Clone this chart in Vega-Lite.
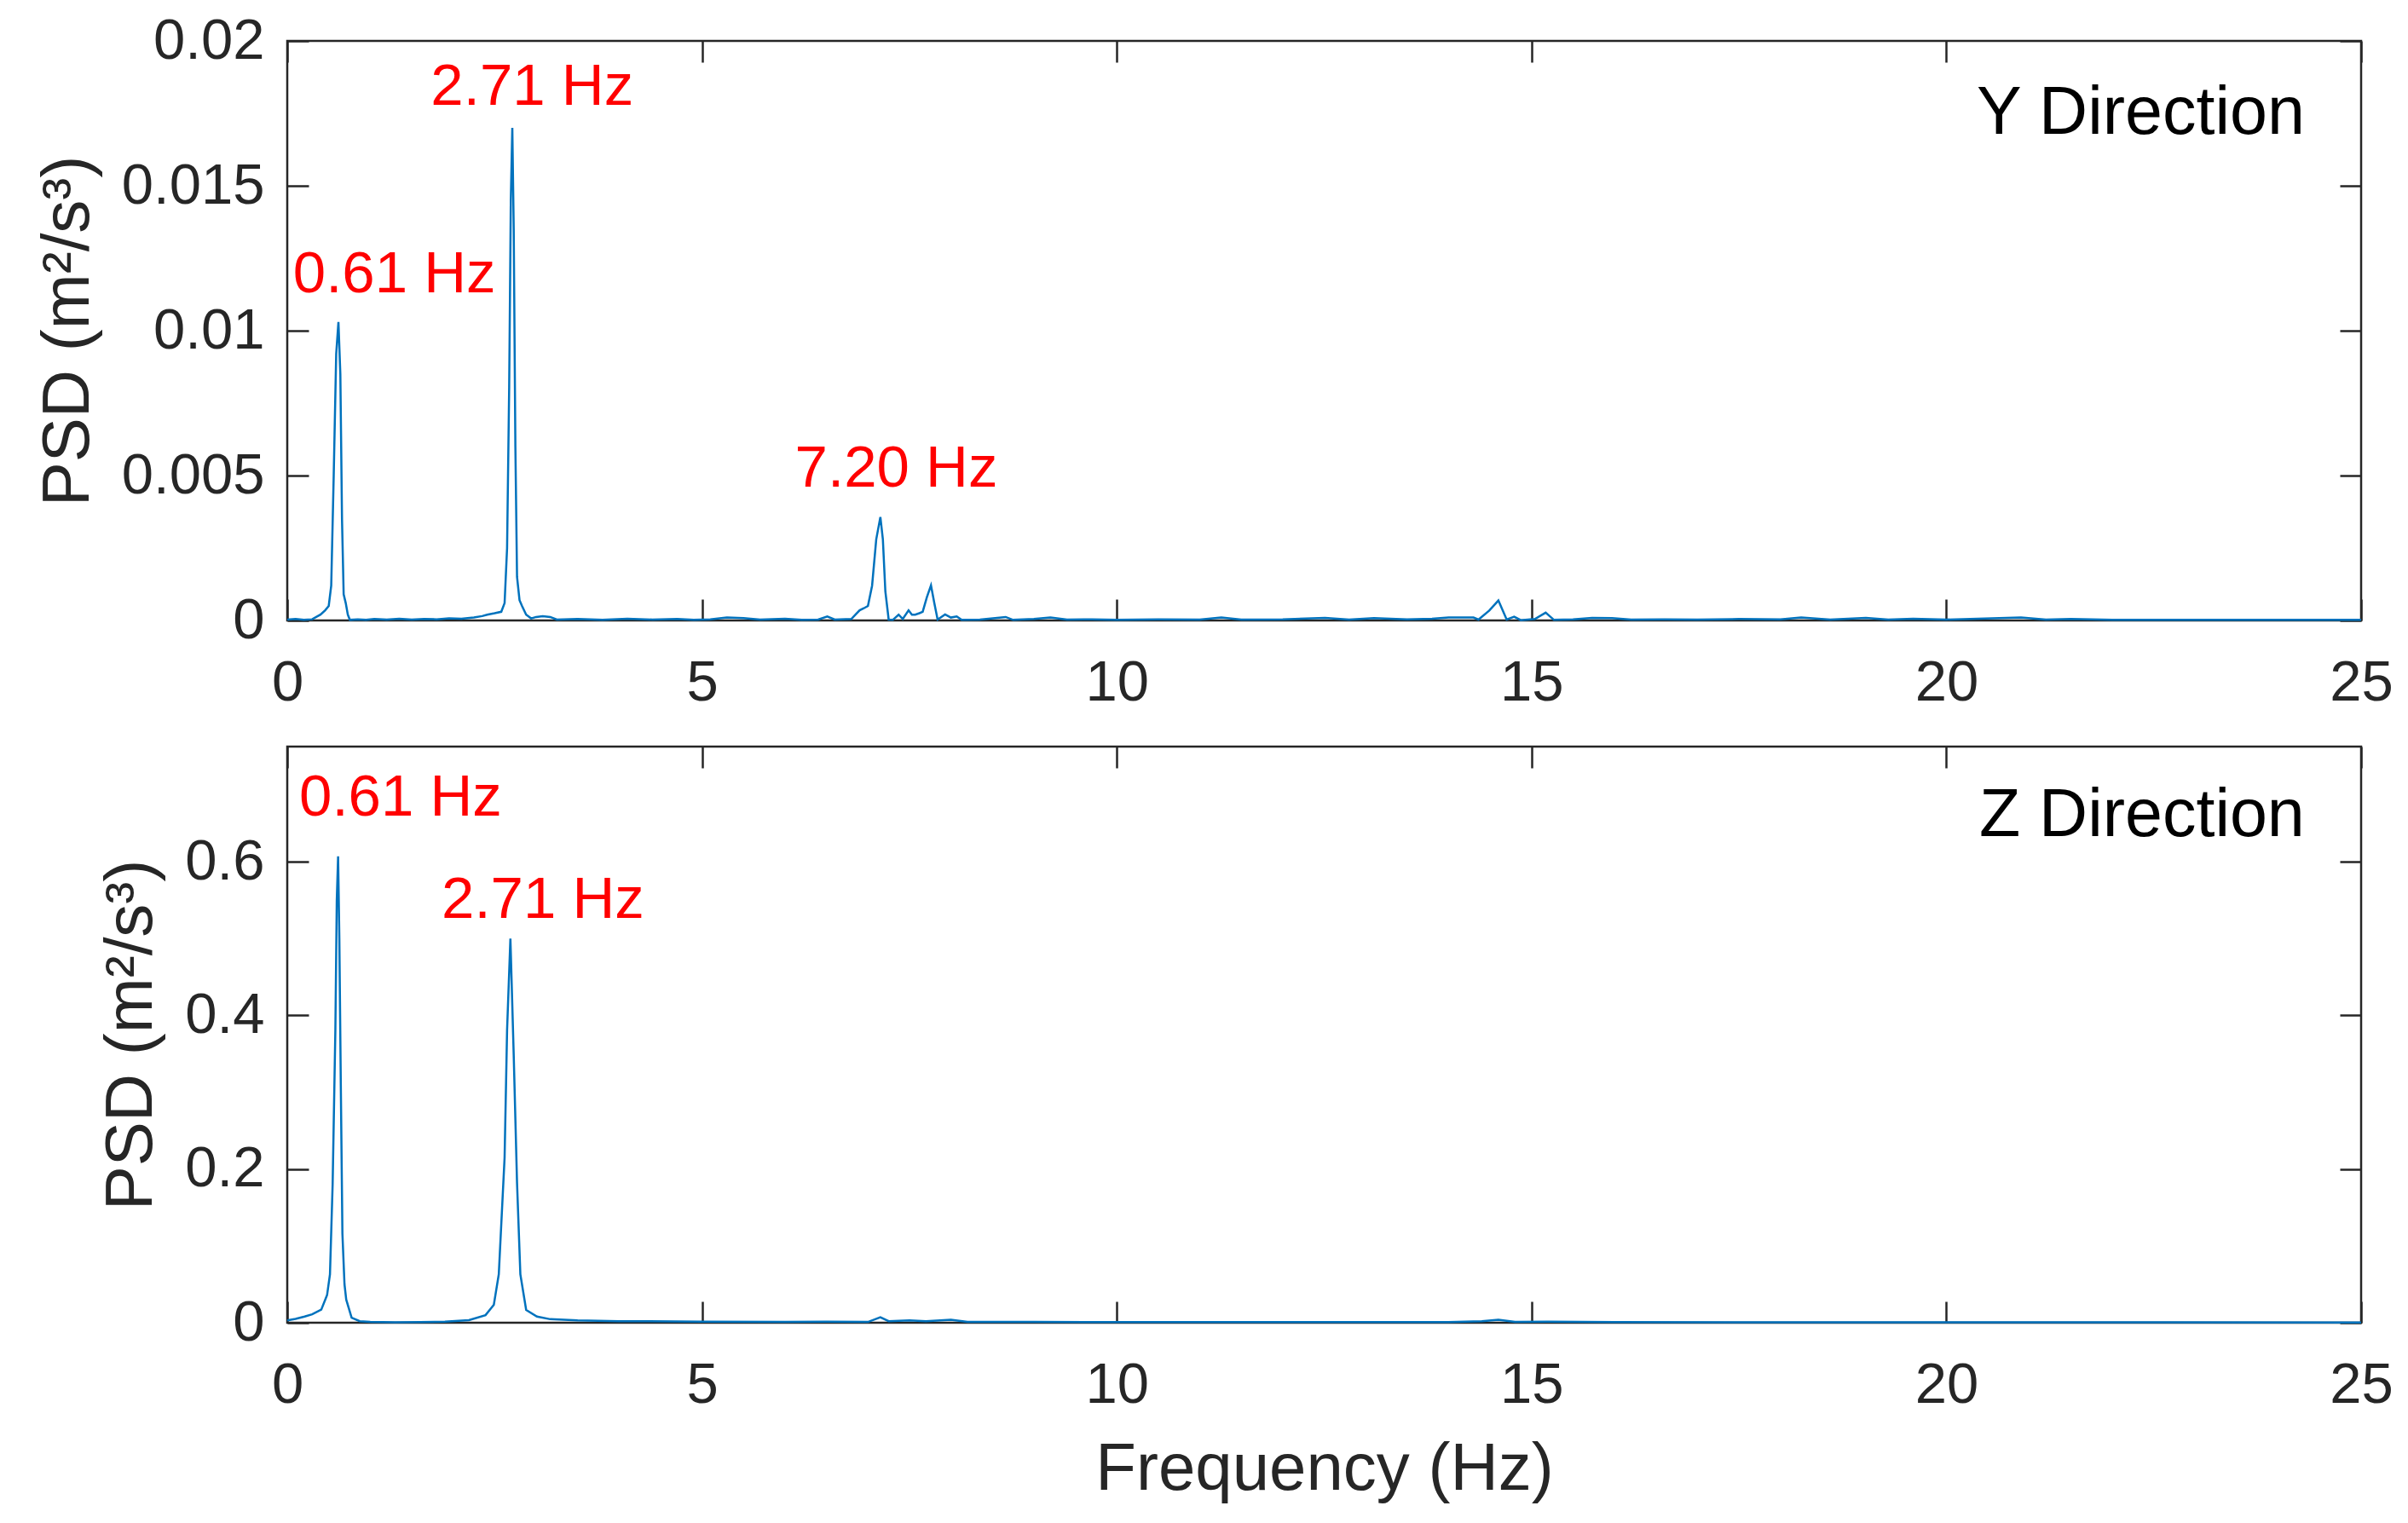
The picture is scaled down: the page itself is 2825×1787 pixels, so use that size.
{
  "$schema": "https://vega.github.io/schema/vega-lite/v6.json",
  "background": "white",
  "padding": {"left": 40, "top": 12, "right": 0, "bottom": 0},
  "spacing": 37,
  "config": {
    "font": "Liberation Sans",
    "view": {"stroke": "#262626", "strokeWidth": 2.5},
    "axis": {
      "grid": false,
      "domain": false,
      "labelFont": "Liberation Sans",
      "labelFontSize": 67,
      "labelColor": "#262626",
      "labelFlush": false,
      "titleFont": "Liberation Sans",
      "titleFontSize": 78,
      "titleFontWeight": "normal",
      "titleColor": "#262626",
      "tickColor": "#262626",
      "tickWidth": 2.5
    }
  },
  "datasets": {
    "ypsd": [
      {"f": 0, "v": 0.00003}, {"f": 0.1, "v": 0.00005}, {"f": 0.2, "v": 0.00002}, {"f": 0.3, "v": 0.00004},
      {"f": 0.4, "v": 0.0002}, {"f": 0.457, "v": 0.00035}, {"f": 0.5, "v": 0.0005}, {"f": 0.53, "v": 0.0012},
      {"f": 0.56, "v": 0.005}, {"f": 0.59, "v": 0.0092}, {"f": 0.617, "v": 0.0103}, {"f": 0.64, "v": 0.0085},
      {"f": 0.66, "v": 0.0035}, {"f": 0.68, "v": 0.0009}, {"f": 0.705, "v": 0.0006}, {"f": 0.73, "v": 0.0002},
      {"f": 0.755, "v": 0.00002}, {"f": 0.85, "v": 0.00004}, {"f": 0.95, "v": 0.00002}, {"f": 1.05, "v": 0.00005},
      {"f": 1.2, "v": 0.00003}, {"f": 1.35, "v": 0.00006}, {"f": 1.5, "v": 0.00003}, {"f": 1.65, "v": 0.00005},
      {"f": 1.8, "v": 0.00004}, {"f": 1.95, "v": 0.00007}, {"f": 2.1, "v": 0.00006}, {"f": 2.25, "v": 0.0001},
      {"f": 2.35, "v": 0.00015}, {"f": 2.41, "v": 0.0002}, {"f": 2.5, "v": 0.00025}, {"f": 2.58, "v": 0.0003},
      {"f": 2.62, "v": 0.0006}, {"f": 2.65, "v": 0.0025}, {"f": 2.675, "v": 0.008}, {"f": 2.695, "v": 0.0145},
      {"f": 2.713, "v": 0.017}, {"f": 2.73, "v": 0.0135}, {"f": 2.75, "v": 0.006}, {"f": 2.77, "v": 0.0015},
      {"f": 2.8, "v": 0.0007}, {"f": 2.83, "v": 0.0005}, {"f": 2.88, "v": 0.0002}, {"f": 2.94, "v": 0.00007},
      {"f": 3.0, "v": 0.00012}, {"f": 3.08, "v": 0.00015}, {"f": 3.17, "v": 0.00012}, {"f": 3.25, "v": 0.00003},
      {"f": 3.5, "v": 0.00005}, {"f": 3.8, "v": 0.00002}, {"f": 4.1, "v": 0.00006}, {"f": 4.4, "v": 0.00003},
      {"f": 4.7, "v": 0.00005}, {"f": 4.9, "v": 0.00002}, {"f": 5.1, "v": 0.00004}, {"f": 5.3, "v": 0.0001},
      {"f": 5.5, "v": 0.00008}, {"f": 5.7, "v": 0.00003}, {"f": 6.0, "v": 0.00006}, {"f": 6.2, "v": 0.00002},
      {"f": 6.4, "v": 0.00003}, {"f": 6.51, "v": 0.00014}, {"f": 6.6, "v": 0.00003}, {"f": 6.8, "v": 0.00005},
      {"f": 6.85, "v": 0.0002}, {"f": 6.9, "v": 0.00035}, {"f": 6.95, "v": 0.00042}, {"f": 7.0, "v": 0.0005},
      {"f": 7.05, "v": 0.0012}, {"f": 7.1, "v": 0.0028}, {"f": 7.15, "v": 0.00357}, {"f": 7.18, "v": 0.0028},
      {"f": 7.21, "v": 0.001}, {"f": 7.25, "v": 0.00003}, {"f": 7.3, "v": 0.00002}, {"f": 7.37, "v": 0.0002},
      {"f": 7.42, "v": 0.00005}, {"f": 7.49, "v": 0.00035}, {"f": 7.53, "v": 0.0002}, {"f": 7.57, "v": 0.0002},
      {"f": 7.62, "v": 0.00025}, {"f": 7.66, "v": 0.0003}, {"f": 7.71, "v": 0.0008}, {"f": 7.76, "v": 0.00121},
      {"f": 7.8, "v": 0.0006}, {"f": 7.84, "v": 0.00003}, {"f": 7.93, "v": 0.00021}, {"f": 8.0, "v": 0.0001},
      {"f": 8.07, "v": 0.00014}, {"f": 8.13, "v": 0.00002}, {"f": 8.35, "v": 0.00003}, {"f": 8.66, "v": 0.00012},
      {"f": 8.75, "v": 0.00002}, {"f": 9.0, "v": 0.00005}, {"f": 9.2, "v": 0.0001}, {"f": 9.4, "v": 0.00003},
      {"f": 9.7, "v": 0.00004}, {"f": 10.0, "v": 0.00002}, {"f": 10.5, "v": 0.00004}, {"f": 11.0, "v": 0.00003},
      {"f": 11.26, "v": 0.0001}, {"f": 11.5, "v": 0.00003}, {"f": 12.0, "v": 0.00004}, {"f": 12.51, "v": 0.00009},
      {"f": 12.8, "v": 0.00003}, {"f": 13.1, "v": 0.00008}, {"f": 13.5, "v": 0.00004}, {"f": 13.8, "v": 0.00006},
      {"f": 14.0, "v": 0.0001}, {"f": 14.3, "v": 0.0001}, {"f": 14.36, "v": 0.00003}, {"f": 14.49, "v": 0.00034},
      {"f": 14.6, "v": 0.00069}, {"f": 14.7, "v": 0.00003}, {"f": 14.79, "v": 0.00013}, {"f": 14.87, "v": 0.00001},
      {"f": 15.04, "v": 0.00005}, {"f": 15.17, "v": 0.00027}, {"f": 15.27, "v": 0.00002}, {"f": 15.5, "v": 0.00004},
      {"f": 15.73, "v": 0.00009}, {"f": 15.97, "v": 0.00008}, {"f": 16.2, "v": 0.00003}, {"f": 16.6, "v": 0.00004},
      {"f": 17.0, "v": 0.00003}, {"f": 17.5, "v": 0.00005}, {"f": 18.0, "v": 0.00004}, {"f": 18.25, "v": 0.0001},
      {"f": 18.6, "v": 0.00003}, {"f": 19.03, "v": 0.00009}, {"f": 19.3, "v": 0.00003}, {"f": 19.6, "v": 0.00006},
      {"f": 20.0, "v": 0.00003}, {"f": 20.9, "v": 0.0001}, {"f": 21.2, "v": 0.00003}, {"f": 21.5, "v": 0.00005},
      {"f": 22.0, "v": 0.00002}, {"f": 23.0, "v": 0.00002}, {"f": 24.0, "v": 0.00002}, {"f": 25.0, "v": 0.00002}
    ],
    "zpsd": [
      {"f": 0, "v": 0.003}, {"f": 0.1, "v": 0.005}, {"f": 0.21, "v": 0.008}, {"f": 0.3, "v": 0.011},
      {"f": 0.41, "v": 0.017}, {"f": 0.48, "v": 0.036}, {"f": 0.515, "v": 0.063}, {"f": 0.547, "v": 0.18},
      {"f": 0.58, "v": 0.381}, {"f": 0.597, "v": 0.55}, {"f": 0.613, "v": 0.607}, {"f": 0.628, "v": 0.5},
      {"f": 0.645, "v": 0.315}, {"f": 0.665, "v": 0.116}, {"f": 0.69, "v": 0.05}, {"f": 0.711, "v": 0.03},
      {"f": 0.776, "v": 0.0066}, {"f": 0.874, "v": 0.002}, {"f": 1.0, "v": 0.001}, {"f": 1.3, "v": 0.0006},
      {"f": 1.6, "v": 0.0008}, {"f": 1.9, "v": 0.0015}, {"f": 2.19, "v": 0.0033}, {"f": 2.39, "v": 0.0099},
      {"f": 2.49, "v": 0.0232}, {"f": 2.55, "v": 0.063}, {"f": 2.62, "v": 0.215}, {"f": 2.65, "v": 0.381},
      {"f": 2.69, "v": 0.5}, {"f": 2.73, "v": 0.348}, {"f": 2.77, "v": 0.182}, {"f": 2.81, "v": 0.063},
      {"f": 2.88, "v": 0.0166}, {"f": 3.01, "v": 0.008}, {"f": 3.17, "v": 0.0046}, {"f": 3.5, "v": 0.003},
      {"f": 4.0, "v": 0.002}, {"f": 5.0, "v": 0.0015}, {"f": 6.0, "v": 0.001}, {"f": 6.5, "v": 0.0015},
      {"f": 7.0, "v": 0.001}, {"f": 7.15, "v": 0.007}, {"f": 7.25, "v": 0.002}, {"f": 7.5, "v": 0.003},
      {"f": 7.7, "v": 0.002}, {"f": 8.0, "v": 0.004}, {"f": 8.2, "v": 0.001}, {"f": 9.0, "v": 0.001},
      {"f": 10.0, "v": 0.0008}, {"f": 12.0, "v": 0.0008}, {"f": 14.0, "v": 0.0008}, {"f": 14.4, "v": 0.002},
      {"f": 14.6, "v": 0.004}, {"f": 14.8, "v": 0.001}, {"f": 15.2, "v": 0.0015}, {"f": 16.0, "v": 0.0007},
      {"f": 18.0, "v": 0.0006}, {"f": 20.0, "v": 0.0005}, {"f": 25.0, "v": 0.0004}
    ],
    "ylab": [
      {"f": 1.73, "v": 0.0178, "t": "2.71 Hz"},
      {"f": 0.07, "v": 0.01132, "t": "0.61 Hz"},
      {"f": 6.12, "v": 0.00462, "t": "7.20 Hz"}
    ],
    "ydir": [{"f": 24.32, "v": 0.0168, "t": "Y Direction"}],
    "zlab": [
      {"f": 0.144, "v": 0.66, "t": "0.61 Hz"},
      {"f": 1.86, "v": 0.527, "t": "2.71 Hz"}
    ],
    "zdir": [{"f": 24.32, "v": 0.634, "t": "Z Direction"}]
  },
  "vconcat": [
    {
      "width": 2433,
      "height": 680,
      "layer": [
        {
          "data": {"name": "ypsd"},
          "mark": {"type": "line", "color": "#0072BD", "strokeWidth": 2.5},
          "encoding": {
            "x": {"field": "f", "type": "quantitative", "scale": {"domain": [0, 25], "nice": false},
              "axis": {"orient": "bottom", "values": [0, 5, 10, 15, 20, 25], "ticks": false, "labelPadding": 40, "title": null}},
            "y": {"field": "v", "type": "quantitative", "scale": {"domain": [0, 0.02], "nice": false},
              "axis": {"orient": "left", "values": [0, 0.005, 0.01, 0.015, 0.02], "format": "~g", "ticks": false, "labelPadding": 27, "title": "PSD (m²/s³)", "titlePadding": 23}}
          }
        },
        {
          "data": {"name": "ylab"},
          "mark": {"type": "text", "color": "#FF0000", "fontSize": 69, "align": "left", "baseline": "alphabetic"},
          "encoding": {
            "x": {"field": "f", "type": "quantitative",
              "axis": {"orient": "bottom", "values": [0, 5, 10, 15, 20, 25], "labels": false, "title": null, "offset": -25, "tickSize": 25}},
            "y": {"field": "v", "type": "quantitative",
              "axis": {"orient": "left", "values": [0, 0.005, 0.01, 0.015, 0.02], "labels": false, "title": null, "offset": -25, "tickSize": 25}},
            "text": {"field": "t"}
          }
        },
        {
          "data": {"name": "ydir"},
          "mark": {"type": "text", "color": "#000000", "fontSize": 79, "align": "right", "baseline": "alphabetic"},
          "encoding": {
            "x": {"field": "f", "type": "quantitative",
              "axis": {"orient": "top", "values": [0, 5, 10, 15, 20, 25], "labels": false, "title": null, "offset": -25, "tickSize": 25}},
            "y": {"field": "v", "type": "quantitative",
              "axis": {"orient": "right", "values": [0, 0.005, 0.01, 0.015, 0.02], "labels": false, "title": null, "offset": -25, "tickSize": 25}},
            "text": {"field": "t"}
          }
        }
      ],
      "resolve": {"axis": {"x": "independent", "y": "independent"}}
    },
    {
      "width": 2433,
      "height": 676,
      "layer": [
        {
          "data": {"name": "zpsd"},
          "mark": {"type": "line", "color": "#0072BD", "strokeWidth": 2.5},
          "encoding": {
            "x": {"field": "f", "type": "quantitative", "scale": {"domain": [0, 25], "nice": false},
              "axis": {"orient": "bottom", "values": [0, 5, 10, 15, 20, 25], "ticks": false, "labelPadding": 40, "title": "Frequency (Hz)", "titlePadding": 27}},
            "y": {"field": "v", "type": "quantitative", "scale": {"domain": [0, 0.75], "nice": false},
              "axis": {"orient": "left", "values": [0, 0.2, 0.4, 0.6], "format": "~g", "ticks": false, "labelPadding": 27, "title": "PSD (m²/s³)", "titlePadding": 23}}
          }
        },
        {
          "data": {"name": "zlab"},
          "mark": {"type": "text", "color": "#FF0000", "fontSize": 69, "align": "left", "baseline": "alphabetic"},
          "encoding": {
            "x": {"field": "f", "type": "quantitative",
              "axis": {"orient": "bottom", "values": [0, 5, 10, 15, 20, 25], "labels": false, "title": null, "offset": -25, "tickSize": 25}},
            "y": {"field": "v", "type": "quantitative",
              "axis": {"orient": "left", "values": [0, 0.2, 0.4, 0.6], "labels": false, "title": null, "offset": -25, "tickSize": 25}},
            "text": {"field": "t"}
          }
        },
        {
          "data": {"name": "zdir"},
          "mark": {"type": "text", "color": "#000000", "fontSize": 79, "align": "right", "baseline": "alphabetic"},
          "encoding": {
            "x": {"field": "f", "type": "quantitative",
              "axis": {"orient": "top", "values": [0, 5, 10, 15, 20, 25], "labels": false, "title": null, "offset": -25, "tickSize": 25}},
            "y": {"field": "v", "type": "quantitative",
              "axis": {"orient": "right", "values": [0, 0.2, 0.4, 0.6], "labels": false, "title": null, "offset": -25, "tickSize": 25}},
            "text": {"field": "t"}
          }
        }
      ],
      "resolve": {"axis": {"x": "independent", "y": "independent"}}
    }
  ]
}
